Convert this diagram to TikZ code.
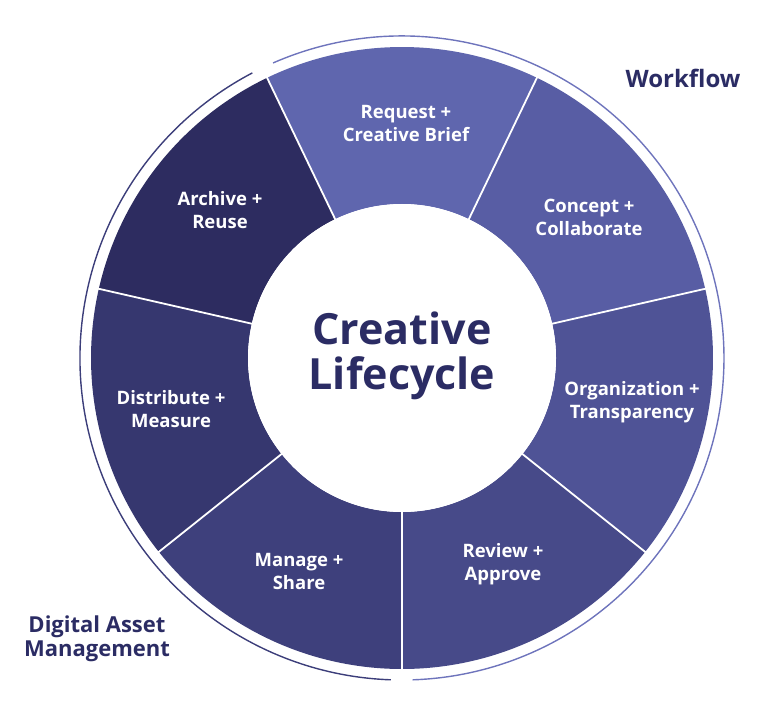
\documentclass[tikz,border=0pt]{standalone}
\usepackage{fontspec}
\setmainfont{Open Sans}
\definecolor{cReq}{HTML}{5F66AE}
\definecolor{cCon}{HTML}{585DA4}
\definecolor{cOrg}{HTML}{4F5396}
\definecolor{cRev}{HTML}{474A89}
\definecolor{cMan}{HTML}{3E407C}
\definecolor{cDis}{HTML}{36376F}
\definecolor{cArc}{HTML}{2D2C60}
\definecolor{navy}{HTML}{2B2C64}
\definecolor{wfline}{HTML}{6E74BC}
\definecolor{damline}{HTML}{3C3E7A}
\begin{document}
\begin{tikzpicture}[x=1pt,y=1pt,
  seglabel/.style={text=white,font=\bfseries\fontsize{18.5}{23}\selectfont,align=center},
  sidelabel/.style={text=navy,font=\bfseries\fontsize{22}{24}\selectfont,align=center},
  divider/.style={draw=white,line width=1.8pt},
  ringline/.style={line width=1.4pt}]
\useasboundingbox (0,0) rectangle (768,713);
\def\Ro{311}
\def\Ri{154}
\begin{scope}[shift={(402,355)}]
  % segments
  \foreach \a/\c in {64.29/cReq,12.86/cCon,-38.57/cOrg,-90/cRev,-141.43/cMan,-192.86/cDis,-244.29/cArc}{
    \pgfmathsetmacro\b{\a+51.43}
    \fill[\c] (\a:\Ro) arc[start angle=\a,end angle=\b,radius=\Ro] -- (\b:\Ri) arc[start angle=\b,end angle=\a,radius=\Ri] -- cycle;
  }
  % dividers
  \foreach \a in {64.29,12.86,-38.57,-90,-141.43,-192.86,-244.29}{
    \draw[divider] (\a:\Ri-2) -- (\a:\Ro+2);
  }
  % inner circle
  \fill[white] (0,0) circle[radius=\Ri];
  % outer lines
  \draw[ringline,wfline] (113.6:322) arc[start angle=113.6,end angle=-88.1,radius=322];
  \draw[ringline,damline] (117.7:322) arc[start angle=117.7,end angle=268.0,radius=322];
\end{scope}
\node[seglabel] (req) at (406,590) {Request +\\Creative Brief};
\node[seglabel] (con) at (589,496) {Concept +\\Collaborate};
\node[seglabel] (org) at (632,311) {Organization +\\Transparency};
\node[seglabel] (rev) at (503,149) {Review +\\Approve};
\node[seglabel] (man) at (299,142) {Manage +\\Share};
\node[seglabel] (dis) at (171,304) {Distribute +\\Measure};
\node[seglabel] (arc) at (220,503) {Archive +\\Reuse};
\node[text=navy,font=\bfseries\fontsize{43}{45}\selectfont,align=center] (title) at (402,357) {Creative\\Lifecycle};
\node[sidelabel,font=\bfseries\fontsize{24}{24}\selectfont] (wf) at (683,635) {Workflow};
\node[sidelabel] (dam) at (97,74) {Digital Asset\\Management};
\end{tikzpicture}
\end{document}
